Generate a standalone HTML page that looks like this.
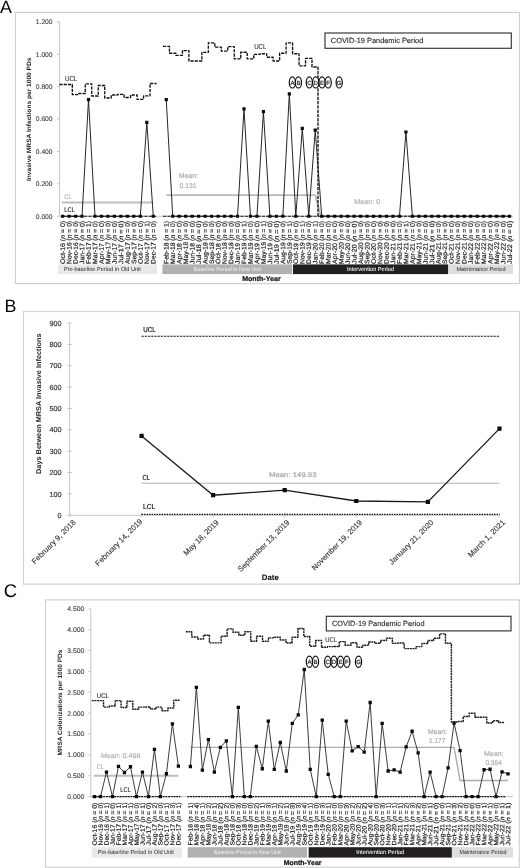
<!DOCTYPE html>
<html lang="en"><head><meta charset="utf-8"><title>MRSA control charts</title>
<style>
html,body{margin:0;padding:0;background:#fff;}
body{width:520px;height:868px;overflow:hidden;}
svg{display:block;font-family:"Liberation Sans", sans-serif;text-rendering:geometricPrecision;}
</style></head><body>
<svg width="520" height="868" viewBox="0 0 520 868">
<rect width="520" height="868" fill="#fff"/>
<rect x="15.4" y="12.4" width="504" height="271.2" fill="#fff" stroke="#d2d2d2" stroke-width="1.2"/>
<path d="M59.5 21.85 V216.25 H513" fill="none" stroke="#c6c6c6" stroke-width="1"/>
<path d="M57 216.25H59.5" stroke="#c6c6c6" stroke-width="1"/>
<text x="52.6" y="218.65" font-size="6.7" fill="#404040" text-anchor="end" textLength="16.8" lengthAdjust="spacingAndGlyphs" stroke="#404040" stroke-width="0.12">0.000</text>
<path d="M57 183.85H59.5" stroke="#c6c6c6" stroke-width="1"/>
<text x="52.6" y="186.25" font-size="6.7" fill="#404040" text-anchor="end" textLength="16.8" lengthAdjust="spacingAndGlyphs" stroke="#404040" stroke-width="0.12">0.200</text>
<path d="M57 151.45H59.5" stroke="#c6c6c6" stroke-width="1"/>
<text x="52.6" y="153.85" font-size="6.7" fill="#404040" text-anchor="end" textLength="16.8" lengthAdjust="spacingAndGlyphs" stroke="#404040" stroke-width="0.12">0.400</text>
<path d="M57 119.05H59.5" stroke="#c6c6c6" stroke-width="1"/>
<text x="52.6" y="121.45" font-size="6.7" fill="#404040" text-anchor="end" textLength="16.8" lengthAdjust="spacingAndGlyphs" stroke="#404040" stroke-width="0.12">0.600</text>
<path d="M57 86.65H59.5" stroke="#c6c6c6" stroke-width="1"/>
<text x="52.6" y="89.05" font-size="6.7" fill="#404040" text-anchor="end" textLength="16.8" lengthAdjust="spacingAndGlyphs" stroke="#404040" stroke-width="0.12">0.800</text>
<path d="M57 54.25H59.5" stroke="#c6c6c6" stroke-width="1"/>
<text x="52.6" y="56.65" font-size="6.7" fill="#404040" text-anchor="end" textLength="16.8" lengthAdjust="spacingAndGlyphs" stroke="#404040" stroke-width="0.12">1.000</text>
<path d="M57 21.85H59.5" stroke="#c6c6c6" stroke-width="1"/>
<text x="52.6" y="24.25" font-size="6.7" fill="#404040" text-anchor="end" textLength="16.8" lengthAdjust="spacingAndGlyphs" stroke="#404040" stroke-width="0.12">1.200</text>
<path d="M59.36 216.25v1.6M65.84 216.25v1.6M72.32 216.25v1.6M78.79 216.25v1.6M85.27 216.25v1.6M91.75 216.25v1.6M98.23 216.25v1.6M104.71 216.25v1.6M111.19 216.25v1.6M117.66 216.25v1.6M124.14 216.25v1.6M130.62 216.25v1.6M137.1 216.25v1.6M143.57 216.25v1.6M150.05 216.25v1.6M156.53 216.25v1.6M163.01 216.25v1.6M169.49 216.25v1.6M175.97 216.25v1.6M182.44 216.25v1.6M188.92 216.25v1.6M195.4 216.25v1.6M201.88 216.25v1.6M208.35 216.25v1.6M214.83 216.25v1.6M221.31 216.25v1.6M227.79 216.25v1.6M234.27 216.25v1.6M240.74 216.25v1.6M247.22 216.25v1.6M253.7 216.25v1.6M260.18 216.25v1.6M266.66 216.25v1.6M273.14 216.25v1.6M279.61 216.25v1.6M286.09 216.25v1.6M292.57 216.25v1.6M299.05 216.25v1.6M305.53 216.25v1.6M312 216.25v1.6M318.48 216.25v1.6M324.96 216.25v1.6M331.44 216.25v1.6M337.92 216.25v1.6M344.39 216.25v1.6M350.87 216.25v1.6M357.35 216.25v1.6M363.83 216.25v1.6M370.31 216.25v1.6M376.78 216.25v1.6M383.26 216.25v1.6M389.74 216.25v1.6M396.22 216.25v1.6M402.7 216.25v1.6M409.17 216.25v1.6M415.65 216.25v1.6M422.13 216.25v1.6M428.61 216.25v1.6M435.09 216.25v1.6M441.56 216.25v1.6M448.04 216.25v1.6M454.52 216.25v1.6M461 216.25v1.6M467.48 216.25v1.6M473.95 216.25v1.6M480.43 216.25v1.6M486.91 216.25v1.6M493.39 216.25v1.6M499.87 216.25v1.6M506.34 216.25v1.6M512.82 216.25v1.6" stroke="#d0d0d0" stroke-width="0.6"/>
<text x="31" y="119.3" font-size="6.3" fill="#222" text-anchor="middle" font-weight="bold" transform="rotate(-90 31 119.3)" textLength="123.5" lengthAdjust="spacingAndGlyphs">Invasive MRSA Infections per 1000 PDs</text>
<path d="M61.8 202.48H153.29" stroke="#bdbdbd" stroke-width="2"/>
<path d="M166.25 195.03H315.24L320.72 216.25H509.58" fill="none" stroke="#b9b9b9" stroke-width="1.8"/>
<path d="M59.36 84.5H65.84V84.5H72.32V94.6H78.79V93.5H85.27V83.8H91.75V96H98.23V85.5H104.71V98H111.19V95H117.66V94.4H124.14V97.5H130.62V95H137.1V99.4H143.57V95.8H150.05V83.5H156.53" fill="none" stroke="#111" stroke-width="1.35" stroke-linejoin="round" stroke-dasharray="3.2 1.1"/>
<path d="M163.01 46.4H169.49V53.2H175.97V55.4H182.44V50.6H188.92V61H195.4V61H201.88V52.3H208.35V42.8H214.83V47.1H221.31V51.1H227.79V46.6H234.27V58.9H240.74V52.2H247.22V58.9H253.7V54.4H260.18V53.7H266.66V57.2H273.14V61H279.61V53.2H286.09V42.8H292.57V53.7H299.05V65.8H305.53V58.4H312V67H318V216.25" fill="none" stroke="#111" stroke-width="1.35" stroke-linejoin="round" stroke-dasharray="3.2 1.1"/>
<path d="M62.6 216.25H156.53 M163.01 216.25H509.58" stroke="#111" stroke-width="1.05" stroke-dasharray="3.2 1.1"/>
<polyline points="62.6,216.25 69.08,216.25 75.56,216.25 82.03,216.25 88.51,99.61 94.99,216.25 101.47,216.25 107.95,216.25 114.42,216.25 120.9,216.25 127.38,216.25 133.86,216.25 140.34,216.25 146.81,122.29 153.29,216.25" fill="none" stroke="#1a1a1a" stroke-width="0.95" stroke-linejoin="miter"/>
<polyline points="166.25,99.61 172.73,216.25 179.2,216.25 185.68,216.25 192.16,216.25 198.64,216.25 205.12,216.25 211.59,216.25 218.07,216.25 224.55,216.25 231.03,216.25 237.51,216.25 243.98,108.84 250.46,216.25 256.94,216.25 263.42,111.6 269.9,216.25 276.37,216.25 282.85,216.25 289.33,93.78 295.81,216.25 302.29,128.45 308.76,216.25 315.24,130.07 321.72,216.25 328.2,216.25 334.68,216.25 341.15,216.25 347.63,216.25 354.11,216.25 360.59,216.25 367.07,216.25 373.54,216.25 380.02,216.25 386.5,216.25 392.98,216.25 399.46,216.25 405.93,132.01 412.41,216.25 418.89,216.25 425.37,216.25 431.85,216.25 438.32,216.25 444.8,216.25 451.28,216.25 457.76,216.25 464.24,216.25 470.71,216.25 477.19,216.25 483.67,216.25 490.15,216.25 496.63,216.25 503.1,216.25 509.58,216.25" fill="none" stroke="#1a1a1a" stroke-width="0.95" stroke-linejoin="miter"/>
<path d="M61 214.65h3.2v3.2h-3.2zM67.48 214.65h3.2v3.2h-3.2zM73.96 214.65h3.2v3.2h-3.2zM80.43 214.65h3.2v3.2h-3.2zM86.91 98.01h3.2v3.2h-3.2zM93.39 214.65h3.2v3.2h-3.2zM99.87 214.65h3.2v3.2h-3.2zM106.35 214.65h3.2v3.2h-3.2zM112.82 214.65h3.2v3.2h-3.2zM119.3 214.65h3.2v3.2h-3.2zM125.78 214.65h3.2v3.2h-3.2zM132.26 214.65h3.2v3.2h-3.2zM138.74 214.65h3.2v3.2h-3.2zM145.21 120.69h3.2v3.2h-3.2zM151.69 214.65h3.2v3.2h-3.2zM164.65 98.01h3.2v3.2h-3.2zM171.13 214.65h3.2v3.2h-3.2zM177.6 214.65h3.2v3.2h-3.2zM184.08 214.65h3.2v3.2h-3.2zM190.56 214.65h3.2v3.2h-3.2zM197.04 214.65h3.2v3.2h-3.2zM203.52 214.65h3.2v3.2h-3.2zM209.99 214.65h3.2v3.2h-3.2zM216.47 214.65h3.2v3.2h-3.2zM222.95 214.65h3.2v3.2h-3.2zM229.43 214.65h3.2v3.2h-3.2zM235.91 214.65h3.2v3.2h-3.2zM242.38 107.24h3.2v3.2h-3.2zM248.86 214.65h3.2v3.2h-3.2zM255.34 214.65h3.2v3.2h-3.2zM261.82 110h3.2v3.2h-3.2zM268.3 214.65h3.2v3.2h-3.2zM274.77 214.65h3.2v3.2h-3.2zM281.25 214.65h3.2v3.2h-3.2zM287.73 92.18h3.2v3.2h-3.2zM294.21 214.65h3.2v3.2h-3.2zM300.69 126.85h3.2v3.2h-3.2zM307.16 214.65h3.2v3.2h-3.2zM313.64 128.47h3.2v3.2h-3.2zM320.12 214.65h3.2v3.2h-3.2zM326.6 214.65h3.2v3.2h-3.2zM333.08 214.65h3.2v3.2h-3.2zM339.55 214.65h3.2v3.2h-3.2zM346.03 214.65h3.2v3.2h-3.2zM352.51 214.65h3.2v3.2h-3.2zM358.99 214.65h3.2v3.2h-3.2zM365.47 214.65h3.2v3.2h-3.2zM371.94 214.65h3.2v3.2h-3.2zM378.42 214.65h3.2v3.2h-3.2zM384.9 214.65h3.2v3.2h-3.2zM391.38 214.65h3.2v3.2h-3.2zM397.86 214.65h3.2v3.2h-3.2zM404.33 130.41h3.2v3.2h-3.2zM410.81 214.65h3.2v3.2h-3.2zM417.29 214.65h3.2v3.2h-3.2zM423.77 214.65h3.2v3.2h-3.2zM430.25 214.65h3.2v3.2h-3.2zM436.72 214.65h3.2v3.2h-3.2zM443.2 214.65h3.2v3.2h-3.2zM449.68 214.65h3.2v3.2h-3.2zM456.16 214.65h3.2v3.2h-3.2zM462.64 214.65h3.2v3.2h-3.2zM469.11 214.65h3.2v3.2h-3.2zM475.59 214.65h3.2v3.2h-3.2zM482.07 214.65h3.2v3.2h-3.2zM488.55 214.65h3.2v3.2h-3.2zM495.03 214.65h3.2v3.2h-3.2zM501.5 214.65h3.2v3.2h-3.2zM507.98 214.65h3.2v3.2h-3.2z" fill="#0a0a0a"/>
<text x="65" y="81.4" font-size="7.1" fill="#333" textLength="12.2" lengthAdjust="spacingAndGlyphs" stroke="#333" stroke-width="0.12">UCL</text>
<text x="254.2" y="49.3" font-size="7.1" fill="#333" textLength="12.2" lengthAdjust="spacingAndGlyphs" stroke="#333" stroke-width="0.12">UCL</text>
<text x="64.6" y="198.7" font-size="6.9" fill="#b5b5b5" textLength="6.8" lengthAdjust="spacingAndGlyphs" stroke="#b5b5b5" stroke-width="0.22">CL</text>
<text x="64.3" y="211.6" font-size="6.9" fill="#222" textLength="10.8" lengthAdjust="spacingAndGlyphs" stroke="#222" stroke-width="0.12">LCL</text>
<text x="178.7" y="177.8" font-size="6.9" fill="#b0b0b0" textLength="19.3" lengthAdjust="spacingAndGlyphs" stroke="#b0b0b0" stroke-width="0.22">Mean:</text>
<text x="179.6" y="187.6" font-size="6.9" fill="#b0b0b0" textLength="16.9" lengthAdjust="spacingAndGlyphs" stroke="#b0b0b0" stroke-width="0.22">0.131</text>
<text x="354.2" y="203.6" font-size="6.9" fill="#b5b5b5" textLength="26" lengthAdjust="spacingAndGlyphs" stroke="#b5b5b5" stroke-width="0.22">Mean: 0</text>
<rect x="325" y="33" width="186.3" height="15.3" fill="#fff" stroke="#3a3a3a" stroke-width="1.2"/>
<text x="330.8" y="43.1" font-size="7.5" fill="#222" textLength="92.5" lengthAdjust="spacingAndGlyphs" stroke="#222" stroke-width="0.1">COVID-19 Pandemic Period</text>
<ellipse cx="292.4" cy="82.4" rx="3.1" ry="5.6" fill="#fff" stroke="#0c0c0c" stroke-width="1.2"/>
<text x="292.4" y="84.55" font-size="6" fill="#222" text-anchor="middle" stroke="#222" stroke-width="0.2">A</text>
<ellipse cx="298.4" cy="82.4" rx="3.1" ry="5.6" fill="#fff" stroke="#0c0c0c" stroke-width="1.2"/>
<text x="298.4" y="84.55" font-size="6" fill="#222" text-anchor="middle" stroke="#222" stroke-width="0.2">B</text>
<ellipse cx="309.3" cy="82.4" rx="3.1" ry="5.6" fill="#fff" stroke="#0c0c0c" stroke-width="1.2"/>
<text x="309.3" y="84.55" font-size="6" fill="#222" text-anchor="middle" stroke="#222" stroke-width="0.2">C</text>
<ellipse cx="315.7" cy="82.4" rx="3.1" ry="5.6" fill="#fff" stroke="#0c0c0c" stroke-width="1.2"/>
<text x="315.7" y="84.55" font-size="6" fill="#222" text-anchor="middle" stroke="#222" stroke-width="0.2">D</text>
<ellipse cx="322.1" cy="82.4" rx="3.1" ry="5.6" fill="#fff" stroke="#0c0c0c" stroke-width="1.2"/>
<text x="322.1" y="84.55" font-size="6" fill="#222" text-anchor="middle" stroke="#222" stroke-width="0.2">E</text>
<ellipse cx="328.2" cy="82.4" rx="3.1" ry="5.6" fill="#fff" stroke="#0c0c0c" stroke-width="1.2"/>
<text x="328.2" y="84.55" font-size="6" fill="#222" text-anchor="middle" stroke="#222" stroke-width="0.2">F</text>
<ellipse cx="339.2" cy="82.4" rx="3.1" ry="5.6" fill="#fff" stroke="#0c0c0c" stroke-width="1.2"/>
<text x="339.2" y="84.55" font-size="6" fill="#222" text-anchor="middle" stroke="#222" stroke-width="0.2">G</text>
<text x="64.9" y="263.9" font-size="6.6" fill="#1a1a1a" transform="rotate(-89.9 64.9 263.9)" textLength="43" lengthAdjust="spacingAndGlyphs" stroke="#1a1a1a" stroke-width="0.18">Oct-16 (<tspan font-style="italic">n</tspan> = 0)</text>
<text x="71.38" y="263.9" font-size="6.6" fill="#1a1a1a" transform="rotate(-89.9 71.38 263.9)" textLength="43" lengthAdjust="spacingAndGlyphs" stroke="#1a1a1a" stroke-width="0.18">Nov-16 (<tspan font-style="italic">n</tspan> = 0)</text>
<text x="77.86" y="263.9" font-size="6.6" fill="#1a1a1a" transform="rotate(-89.9 77.86 263.9)" textLength="43" lengthAdjust="spacingAndGlyphs" stroke="#1a1a1a" stroke-width="0.18">Dec-16 (<tspan font-style="italic">n</tspan> = 0)</text>
<text x="84.33" y="263.9" font-size="6.6" fill="#1a1a1a" transform="rotate(-89.9 84.33 263.9)" textLength="43" lengthAdjust="spacingAndGlyphs" stroke="#1a1a1a" stroke-width="0.18">Jan-17 (<tspan font-style="italic">n</tspan> = 0)</text>
<text x="90.81" y="263.9" font-size="6.6" fill="#1a1a1a" transform="rotate(-89.9 90.81 263.9)" textLength="43" lengthAdjust="spacingAndGlyphs" stroke="#1a1a1a" stroke-width="0.18">Feb-17 (<tspan font-style="italic">n</tspan> = 1)</text>
<text x="97.29" y="263.9" font-size="6.6" fill="#1a1a1a" transform="rotate(-89.9 97.29 263.9)" textLength="43" lengthAdjust="spacingAndGlyphs" stroke="#1a1a1a" stroke-width="0.18">Mar-17 (<tspan font-style="italic">n</tspan> = 0)</text>
<text x="103.77" y="263.9" font-size="6.6" fill="#1a1a1a" transform="rotate(-89.9 103.77 263.9)" textLength="43" lengthAdjust="spacingAndGlyphs" stroke="#1a1a1a" stroke-width="0.18">Apr-17 (<tspan font-style="italic">n</tspan> = 0)</text>
<text x="110.25" y="263.9" font-size="6.6" fill="#1a1a1a" transform="rotate(-89.9 110.25 263.9)" textLength="43" lengthAdjust="spacingAndGlyphs" stroke="#1a1a1a" stroke-width="0.18">May-17 (<tspan font-style="italic">n</tspan> = 0)</text>
<text x="116.72" y="263.9" font-size="6.6" fill="#1a1a1a" transform="rotate(-89.9 116.72 263.9)" textLength="43" lengthAdjust="spacingAndGlyphs" stroke="#1a1a1a" stroke-width="0.18">Jun-17 (<tspan font-style="italic">n</tspan> = 0)</text>
<text x="123.2" y="263.9" font-size="6.6" fill="#1a1a1a" transform="rotate(-89.9 123.2 263.9)" textLength="43" lengthAdjust="spacingAndGlyphs" stroke="#1a1a1a" stroke-width="0.18">Jul-17 (<tspan font-style="italic">n</tspan> = 0)</text>
<text x="129.68" y="263.9" font-size="6.6" fill="#1a1a1a" transform="rotate(-89.9 129.68 263.9)" textLength="43" lengthAdjust="spacingAndGlyphs" stroke="#1a1a1a" stroke-width="0.18">Aug-17 (<tspan font-style="italic">n</tspan> = 0)</text>
<text x="136.16" y="263.9" font-size="6.6" fill="#1a1a1a" transform="rotate(-89.9 136.16 263.9)" textLength="43" lengthAdjust="spacingAndGlyphs" stroke="#1a1a1a" stroke-width="0.18">Sep-17 (<tspan font-style="italic">n</tspan> = 0)</text>
<text x="142.64" y="263.9" font-size="6.6" fill="#1a1a1a" transform="rotate(-89.9 142.64 263.9)" textLength="43" lengthAdjust="spacingAndGlyphs" stroke="#1a1a1a" stroke-width="0.18">Oct-17 (<tspan font-style="italic">n</tspan> = 0)</text>
<text x="149.11" y="263.9" font-size="6.6" fill="#1a1a1a" transform="rotate(-89.9 149.11 263.9)" textLength="43" lengthAdjust="spacingAndGlyphs" stroke="#1a1a1a" stroke-width="0.18">Nov-17 (<tspan font-style="italic">n</tspan> = 1)</text>
<text x="155.59" y="263.9" font-size="6.6" fill="#1a1a1a" transform="rotate(-89.9 155.59 263.9)" textLength="43" lengthAdjust="spacingAndGlyphs" stroke="#1a1a1a" stroke-width="0.18">Dec-17 (<tspan font-style="italic">n</tspan> = 0)</text>
<text x="168.55" y="263.9" font-size="6.6" fill="#1a1a1a" transform="rotate(-89.9 168.55 263.9)" textLength="43" lengthAdjust="spacingAndGlyphs" stroke="#1a1a1a" stroke-width="0.18">Feb-18 (<tspan font-style="italic">n</tspan> = 1)</text>
<text x="175.03" y="263.9" font-size="6.6" fill="#1a1a1a" transform="rotate(-89.9 175.03 263.9)" textLength="43" lengthAdjust="spacingAndGlyphs" stroke="#1a1a1a" stroke-width="0.18">Mar-18 (<tspan font-style="italic">n</tspan> = 0)</text>
<text x="181.5" y="263.9" font-size="6.6" fill="#1a1a1a" transform="rotate(-89.9 181.5 263.9)" textLength="43" lengthAdjust="spacingAndGlyphs" stroke="#1a1a1a" stroke-width="0.18">Apr-18 (<tspan font-style="italic">n</tspan> = 0)</text>
<text x="187.98" y="263.9" font-size="6.6" fill="#1a1a1a" transform="rotate(-89.9 187.98 263.9)" textLength="43" lengthAdjust="spacingAndGlyphs" stroke="#1a1a1a" stroke-width="0.18">May-18 (<tspan font-style="italic">n</tspan> = 0)</text>
<text x="194.46" y="263.9" font-size="6.6" fill="#1a1a1a" transform="rotate(-89.9 194.46 263.9)" textLength="43" lengthAdjust="spacingAndGlyphs" stroke="#1a1a1a" stroke-width="0.18">Jun-18 (<tspan font-style="italic">n</tspan> = 0)</text>
<text x="200.94" y="263.9" font-size="6.6" fill="#1a1a1a" transform="rotate(-89.9 200.94 263.9)" textLength="43" lengthAdjust="spacingAndGlyphs" stroke="#1a1a1a" stroke-width="0.18">Jul-18 (<tspan font-style="italic">n</tspan> = 0)</text>
<text x="207.42" y="263.9" font-size="6.6" fill="#1a1a1a" transform="rotate(-89.9 207.42 263.9)" textLength="43" lengthAdjust="spacingAndGlyphs" stroke="#1a1a1a" stroke-width="0.18">Aug-18 (<tspan font-style="italic">n</tspan> = 0)</text>
<text x="213.89" y="263.9" font-size="6.6" fill="#1a1a1a" transform="rotate(-89.9 213.89 263.9)" textLength="43" lengthAdjust="spacingAndGlyphs" stroke="#1a1a1a" stroke-width="0.18">Sep-18 (<tspan font-style="italic">n</tspan> = 0)</text>
<text x="220.37" y="263.9" font-size="6.6" fill="#1a1a1a" transform="rotate(-89.9 220.37 263.9)" textLength="43" lengthAdjust="spacingAndGlyphs" stroke="#1a1a1a" stroke-width="0.18">Oct-18 (<tspan font-style="italic">n</tspan> = 0)</text>
<text x="226.85" y="263.9" font-size="6.6" fill="#1a1a1a" transform="rotate(-89.9 226.85 263.9)" textLength="43" lengthAdjust="spacingAndGlyphs" stroke="#1a1a1a" stroke-width="0.18">Nov-18 (<tspan font-style="italic">n</tspan> = 0)</text>
<text x="233.33" y="263.9" font-size="6.6" fill="#1a1a1a" transform="rotate(-89.9 233.33 263.9)" textLength="43" lengthAdjust="spacingAndGlyphs" stroke="#1a1a1a" stroke-width="0.18">Dec-18 (<tspan font-style="italic">n</tspan> = 0)</text>
<text x="239.81" y="263.9" font-size="6.6" fill="#1a1a1a" transform="rotate(-89.9 239.81 263.9)" textLength="43" lengthAdjust="spacingAndGlyphs" stroke="#1a1a1a" stroke-width="0.18">Jan-19 (<tspan font-style="italic">n</tspan> = 0)</text>
<text x="246.28" y="263.9" font-size="6.6" fill="#1a1a1a" transform="rotate(-89.9 246.28 263.9)" textLength="43" lengthAdjust="spacingAndGlyphs" stroke="#1a1a1a" stroke-width="0.18">Feb-19 (<tspan font-style="italic">n</tspan> = 1)</text>
<text x="252.76" y="263.9" font-size="6.6" fill="#1a1a1a" transform="rotate(-89.9 252.76 263.9)" textLength="43" lengthAdjust="spacingAndGlyphs" stroke="#1a1a1a" stroke-width="0.18">Mar-19 (<tspan font-style="italic">n</tspan> = 0)</text>
<text x="259.24" y="263.9" font-size="6.6" fill="#1a1a1a" transform="rotate(-89.9 259.24 263.9)" textLength="43" lengthAdjust="spacingAndGlyphs" stroke="#1a1a1a" stroke-width="0.18">Apr-19 (<tspan font-style="italic">n</tspan> = 0)</text>
<text x="265.72" y="263.9" font-size="6.6" fill="#1a1a1a" transform="rotate(-89.9 265.72 263.9)" textLength="43" lengthAdjust="spacingAndGlyphs" stroke="#1a1a1a" stroke-width="0.18">May-19 (<tspan font-style="italic">n</tspan> = 1)</text>
<text x="272.2" y="263.9" font-size="6.6" fill="#1a1a1a" transform="rotate(-89.9 272.2 263.9)" textLength="43" lengthAdjust="spacingAndGlyphs" stroke="#1a1a1a" stroke-width="0.18">Jun-19 (<tspan font-style="italic">n</tspan> = 0)</text>
<text x="278.67" y="263.9" font-size="6.6" fill="#1a1a1a" transform="rotate(-89.9 278.67 263.9)" textLength="43" lengthAdjust="spacingAndGlyphs" stroke="#1a1a1a" stroke-width="0.18">Jul-19 (<tspan font-style="italic">n</tspan> = 0)</text>
<text x="285.15" y="263.9" font-size="6.6" fill="#1a1a1a" transform="rotate(-89.9 285.15 263.9)" textLength="43" lengthAdjust="spacingAndGlyphs" stroke="#1a1a1a" stroke-width="0.18">Aug-19 (<tspan font-style="italic">n</tspan> = 0)</text>
<text x="291.63" y="263.9" font-size="6.6" fill="#1a1a1a" transform="rotate(-89.9 291.63 263.9)" textLength="43" lengthAdjust="spacingAndGlyphs" stroke="#1a1a1a" stroke-width="0.18">Sep-19 (<tspan font-style="italic">n</tspan> = 1)</text>
<text x="298.11" y="263.9" font-size="6.6" fill="#1a1a1a" transform="rotate(-89.9 298.11 263.9)" textLength="43" lengthAdjust="spacingAndGlyphs" stroke="#1a1a1a" stroke-width="0.18">Oct-19 (<tspan font-style="italic">n</tspan> = 0)</text>
<text x="304.59" y="263.9" font-size="6.6" fill="#1a1a1a" transform="rotate(-89.9 304.59 263.9)" textLength="43" lengthAdjust="spacingAndGlyphs" stroke="#1a1a1a" stroke-width="0.18">Nov-19 (<tspan font-style="italic">n</tspan> = 1)</text>
<text x="311.06" y="263.9" font-size="6.6" fill="#1a1a1a" transform="rotate(-89.9 311.06 263.9)" textLength="43" lengthAdjust="spacingAndGlyphs" stroke="#1a1a1a" stroke-width="0.18">Dec-19 (<tspan font-style="italic">n</tspan> = 0)</text>
<text x="317.54" y="263.9" font-size="6.6" fill="#1a1a1a" transform="rotate(-89.9 317.54 263.9)" textLength="43" lengthAdjust="spacingAndGlyphs" stroke="#1a1a1a" stroke-width="0.18">Jan-20 (<tspan font-style="italic">n</tspan> = 1)</text>
<text x="324.02" y="263.9" font-size="6.6" fill="#1a1a1a" transform="rotate(-89.9 324.02 263.9)" textLength="43" lengthAdjust="spacingAndGlyphs" stroke="#1a1a1a" stroke-width="0.18">Feb-20 (<tspan font-style="italic">n</tspan> = 0)</text>
<text x="330.5" y="263.9" font-size="6.6" fill="#1a1a1a" transform="rotate(-89.9 330.5 263.9)" textLength="43" lengthAdjust="spacingAndGlyphs" stroke="#1a1a1a" stroke-width="0.18">Mar-20 (<tspan font-style="italic">n</tspan> = 0)</text>
<text x="336.98" y="263.9" font-size="6.6" fill="#1a1a1a" transform="rotate(-89.9 336.98 263.9)" textLength="43" lengthAdjust="spacingAndGlyphs" stroke="#1a1a1a" stroke-width="0.18">Apr-20 (<tspan font-style="italic">n</tspan> = 0)</text>
<text x="343.45" y="263.9" font-size="6.6" fill="#1a1a1a" transform="rotate(-89.9 343.45 263.9)" textLength="43" lengthAdjust="spacingAndGlyphs" stroke="#1a1a1a" stroke-width="0.18">May-20 (<tspan font-style="italic">n</tspan> = 0)</text>
<text x="349.93" y="263.9" font-size="6.6" fill="#1a1a1a" transform="rotate(-89.9 349.93 263.9)" textLength="43" lengthAdjust="spacingAndGlyphs" stroke="#1a1a1a" stroke-width="0.18">Jun-20 (<tspan font-style="italic">n</tspan> = 0)</text>
<text x="356.41" y="263.9" font-size="6.6" fill="#1a1a1a" transform="rotate(-89.9 356.41 263.9)" textLength="43" lengthAdjust="spacingAndGlyphs" stroke="#1a1a1a" stroke-width="0.18">Jul-20 (<tspan font-style="italic">n</tspan> = 0)</text>
<text x="362.89" y="263.9" font-size="6.6" fill="#1a1a1a" transform="rotate(-89.9 362.89 263.9)" textLength="43" lengthAdjust="spacingAndGlyphs" stroke="#1a1a1a" stroke-width="0.18">Aug-20 (<tspan font-style="italic">n</tspan> = 0)</text>
<text x="369.37" y="263.9" font-size="6.6" fill="#1a1a1a" transform="rotate(-89.9 369.37 263.9)" textLength="43" lengthAdjust="spacingAndGlyphs" stroke="#1a1a1a" stroke-width="0.18">Sep-20 (<tspan font-style="italic">n</tspan> = 0)</text>
<text x="375.84" y="263.9" font-size="6.6" fill="#1a1a1a" transform="rotate(-89.9 375.84 263.9)" textLength="43" lengthAdjust="spacingAndGlyphs" stroke="#1a1a1a" stroke-width="0.18">Oct-20 (<tspan font-style="italic">n</tspan> = 0)</text>
<text x="382.32" y="263.9" font-size="6.6" fill="#1a1a1a" transform="rotate(-89.9 382.32 263.9)" textLength="43" lengthAdjust="spacingAndGlyphs" stroke="#1a1a1a" stroke-width="0.18">Nov-20 (<tspan font-style="italic">n</tspan> = 0)</text>
<text x="388.8" y="263.9" font-size="6.6" fill="#1a1a1a" transform="rotate(-89.9 388.8 263.9)" textLength="43" lengthAdjust="spacingAndGlyphs" stroke="#1a1a1a" stroke-width="0.18">Dec-20 (<tspan font-style="italic">n</tspan> = 0)</text>
<text x="395.28" y="263.9" font-size="6.6" fill="#1a1a1a" transform="rotate(-89.9 395.28 263.9)" textLength="43" lengthAdjust="spacingAndGlyphs" stroke="#1a1a1a" stroke-width="0.18">Jan-21 (<tspan font-style="italic">n</tspan> = 0)</text>
<text x="401.76" y="263.9" font-size="6.6" fill="#1a1a1a" transform="rotate(-89.9 401.76 263.9)" textLength="43" lengthAdjust="spacingAndGlyphs" stroke="#1a1a1a" stroke-width="0.18">Feb-21 (<tspan font-style="italic">n</tspan> = 0)</text>
<text x="408.23" y="263.9" font-size="6.6" fill="#1a1a1a" transform="rotate(-89.9 408.23 263.9)" textLength="43" lengthAdjust="spacingAndGlyphs" stroke="#1a1a1a" stroke-width="0.18">Mar-21 (<tspan font-style="italic">n</tspan> = 1)</text>
<text x="414.71" y="263.9" font-size="6.6" fill="#1a1a1a" transform="rotate(-89.9 414.71 263.9)" textLength="43" lengthAdjust="spacingAndGlyphs" stroke="#1a1a1a" stroke-width="0.18">Apr-21 (<tspan font-style="italic">n</tspan> = 0)</text>
<text x="421.19" y="263.9" font-size="6.6" fill="#1a1a1a" transform="rotate(-89.9 421.19 263.9)" textLength="43" lengthAdjust="spacingAndGlyphs" stroke="#1a1a1a" stroke-width="0.18">May-21 (<tspan font-style="italic">n</tspan> = 0)</text>
<text x="427.67" y="263.9" font-size="6.6" fill="#1a1a1a" transform="rotate(-89.9 427.67 263.9)" textLength="43" lengthAdjust="spacingAndGlyphs" stroke="#1a1a1a" stroke-width="0.18">Jun-21 (<tspan font-style="italic">n</tspan> = 0)</text>
<text x="434.15" y="263.9" font-size="6.6" fill="#1a1a1a" transform="rotate(-89.9 434.15 263.9)" textLength="43" lengthAdjust="spacingAndGlyphs" stroke="#1a1a1a" stroke-width="0.18">Jul-21 (<tspan font-style="italic">n</tspan> = 0)</text>
<text x="440.62" y="263.9" font-size="6.6" fill="#1a1a1a" transform="rotate(-89.9 440.62 263.9)" textLength="43" lengthAdjust="spacingAndGlyphs" stroke="#1a1a1a" stroke-width="0.18">Aug-21 (<tspan font-style="italic">n</tspan> = 0)</text>
<text x="447.1" y="263.9" font-size="6.6" fill="#1a1a1a" transform="rotate(-89.9 447.1 263.9)" textLength="43" lengthAdjust="spacingAndGlyphs" stroke="#1a1a1a" stroke-width="0.18">Sep-21 (<tspan font-style="italic">n</tspan> = 0)</text>
<text x="453.58" y="263.9" font-size="6.6" fill="#1a1a1a" transform="rotate(-89.9 453.58 263.9)" textLength="43" lengthAdjust="spacingAndGlyphs" stroke="#1a1a1a" stroke-width="0.18">Oct-21 (<tspan font-style="italic">n</tspan> = 0)</text>
<text x="460.06" y="263.9" font-size="6.6" fill="#1a1a1a" transform="rotate(-89.9 460.06 263.9)" textLength="43" lengthAdjust="spacingAndGlyphs" stroke="#1a1a1a" stroke-width="0.18">Nov-21 (<tspan font-style="italic">n</tspan> = 0)</text>
<text x="466.54" y="263.9" font-size="6.6" fill="#1a1a1a" transform="rotate(-89.9 466.54 263.9)" textLength="43" lengthAdjust="spacingAndGlyphs" stroke="#1a1a1a" stroke-width="0.18">Dec-21 (<tspan font-style="italic">n</tspan> = 0)</text>
<text x="473.01" y="263.9" font-size="6.6" fill="#1a1a1a" transform="rotate(-89.9 473.01 263.9)" textLength="43" lengthAdjust="spacingAndGlyphs" stroke="#1a1a1a" stroke-width="0.18">Jan-22 (<tspan font-style="italic">n</tspan> = 0)</text>
<text x="479.49" y="263.9" font-size="6.6" fill="#1a1a1a" transform="rotate(-89.9 479.49 263.9)" textLength="43" lengthAdjust="spacingAndGlyphs" stroke="#1a1a1a" stroke-width="0.18">Feb-22 (<tspan font-style="italic">n</tspan> = 0)</text>
<text x="485.97" y="263.9" font-size="6.6" fill="#1a1a1a" transform="rotate(-89.9 485.97 263.9)" textLength="43" lengthAdjust="spacingAndGlyphs" stroke="#1a1a1a" stroke-width="0.18">Mar-22 (<tspan font-style="italic">n</tspan> = 0)</text>
<text x="492.45" y="263.9" font-size="6.6" fill="#1a1a1a" transform="rotate(-89.9 492.45 263.9)" textLength="43" lengthAdjust="spacingAndGlyphs" stroke="#1a1a1a" stroke-width="0.18">Apr-22 (<tspan font-style="italic">n</tspan> = 0)</text>
<text x="498.93" y="263.9" font-size="6.6" fill="#1a1a1a" transform="rotate(-89.9 498.93 263.9)" textLength="43" lengthAdjust="spacingAndGlyphs" stroke="#1a1a1a" stroke-width="0.18">May-22 (<tspan font-style="italic">n</tspan> = 0)</text>
<text x="505.4" y="263.9" font-size="6.6" fill="#1a1a1a" transform="rotate(-89.9 505.4 263.9)" textLength="43" lengthAdjust="spacingAndGlyphs" stroke="#1a1a1a" stroke-width="0.18">Jun-22 (<tspan font-style="italic">n</tspan> = 0)</text>
<text x="511.88" y="263.9" font-size="6.6" fill="#1a1a1a" transform="rotate(-89.9 511.88 263.9)" textLength="43" lengthAdjust="spacingAndGlyphs" stroke="#1a1a1a" stroke-width="0.18">Jul-22 (<tspan font-style="italic">n</tspan> = 0)</text>
<rect x="58" y="264.4" width="99" height="9.7" fill="#e9e9e9"/>
<rect x="162.4" y="264.4" width="129.8" height="9.7" fill="#b0b1b3"/>
<rect x="293" y="264.4" width="155.3" height="9.7" fill="#231f20"/>
<rect x="448.3" y="264.4" width="64.7" height="9.7" fill="#dedede"/>
<text x="63.9" y="271" font-size="5.9" fill="#3a3a3a" textLength="77" lengthAdjust="spacingAndGlyphs" stroke="#3a3a3a" stroke-width="0.05">Pre-baseline Period in Old Unit</text>
<text x="227.5" y="271" font-size="5.8" fill="#f4f4f4" text-anchor="middle" textLength="67" lengthAdjust="spacingAndGlyphs">Baseline Period in New Unit</text>
<text x="370.5" y="271" font-size="5.9" fill="#fff" text-anchor="middle" textLength="47" lengthAdjust="spacingAndGlyphs" stroke="#fff" stroke-width="0.05">Intervention Period</text>
<text x="481" y="271" font-size="5.9" fill="#3a3a3a" text-anchor="middle" textLength="49" lengthAdjust="spacingAndGlyphs" stroke="#3a3a3a" stroke-width="0.05">Maintenance Period</text>
<text x="261.4" y="280.8" font-size="7" fill="#111" text-anchor="middle" font-weight="bold" textLength="38.5" lengthAdjust="spacingAndGlyphs" stroke="#111" stroke-width="0.22">Month-Year</text>
<rect x="23.5" y="311.5" width="496" height="272.6" fill="#fff" stroke="#d2d2d2" stroke-width="1.2"/>
<path d="M69.6 323.06 V515.3 H499.48" fill="none" stroke="#c6c6c6" stroke-width="1"/>
<path d="M67.3 515.3H71.9" stroke="#c6c6c6" stroke-width="1"/>
<text x="61.6" y="517.9" font-size="7.2" fill="#404040" text-anchor="end" stroke="#404040" stroke-width="0.22">0</text>
<path d="M67.3 493.94H71.9" stroke="#c6c6c6" stroke-width="1"/>
<text x="61.6" y="496.54" font-size="7.2" fill="#404040" text-anchor="end" stroke="#404040" stroke-width="0.22">100</text>
<path d="M67.3 472.58H71.9" stroke="#c6c6c6" stroke-width="1"/>
<text x="61.6" y="475.18" font-size="7.2" fill="#404040" text-anchor="end" stroke="#404040" stroke-width="0.22">200</text>
<path d="M67.3 451.22H71.9" stroke="#c6c6c6" stroke-width="1"/>
<text x="61.6" y="453.82" font-size="7.2" fill="#404040" text-anchor="end" stroke="#404040" stroke-width="0.22">300</text>
<path d="M67.3 429.86H71.9" stroke="#c6c6c6" stroke-width="1"/>
<text x="61.6" y="432.46" font-size="7.2" fill="#404040" text-anchor="end" stroke="#404040" stroke-width="0.22">400</text>
<path d="M67.3 408.5H71.9" stroke="#c6c6c6" stroke-width="1"/>
<text x="61.6" y="411.1" font-size="7.2" fill="#404040" text-anchor="end" stroke="#404040" stroke-width="0.22">500</text>
<path d="M67.3 387.14H71.9" stroke="#c6c6c6" stroke-width="1"/>
<text x="61.6" y="389.74" font-size="7.2" fill="#404040" text-anchor="end" stroke="#404040" stroke-width="0.22">600</text>
<path d="M67.3 365.78H71.9" stroke="#c6c6c6" stroke-width="1"/>
<text x="61.6" y="368.38" font-size="7.2" fill="#404040" text-anchor="end" stroke="#404040" stroke-width="0.22">700</text>
<path d="M67.3 344.42H71.9" stroke="#c6c6c6" stroke-width="1"/>
<text x="61.6" y="347.02" font-size="7.2" fill="#404040" text-anchor="end" stroke="#404040" stroke-width="0.22">800</text>
<path d="M67.3 323.06H71.9" stroke="#c6c6c6" stroke-width="1"/>
<text x="61.6" y="325.66" font-size="7.2" fill="#404040" text-anchor="end" stroke="#404040" stroke-width="0.22">900</text>
<path d="M70 513v4.6M141.58 513v4.6M213.16 513v4.6M284.74 513v4.6M356.32 513v4.6M427.9 513v4.6M499.48 513v4.6" stroke="#c6c6c6" stroke-width="1"/>
<text x="41.2" y="403.7" font-size="7" fill="#222" text-anchor="middle" font-weight="bold" transform="rotate(-90 41.2 403.7)" textLength="140.5" lengthAdjust="spacingAndGlyphs">Days Between MRSA Invasive Infections</text>
<path d="M141.58 336.3H499.48" stroke="#111" stroke-width="1.1" stroke-dasharray="2.2 1"/>
<path d="M141.58 483.2H499.48" stroke="#b0b0b0" stroke-width="1"/>
<path d="M141.58 514.3H499.48" stroke="#111" stroke-width="1.2" stroke-dasharray="1.5 1"/>
<polyline points="141.58,435.9 213.16,495.22 284.74,490.1 356.32,500.99 427.9,501.84 499.48,428.58" fill="none" stroke="#1a1a1a" stroke-width="1.3"/>
<path d="M139.48 433.8h4.2v4.2h-4.2zM211.06 493.12h4.2v4.2h-4.2zM282.64 488h4.2v4.2h-4.2zM354.22 498.89h4.2v4.2h-4.2zM425.8 499.74h4.2v4.2h-4.2zM497.38 426.48h4.2v4.2h-4.2z" fill="#0a0a0a"/>
<text x="143.2" y="332.2" font-size="7.2" fill="#222" textLength="12.6" lengthAdjust="spacingAndGlyphs" stroke="#222" stroke-width="0.22">UCL</text>
<text x="142.5" y="480.2" font-size="7.2" fill="#222" textLength="7.6" lengthAdjust="spacingAndGlyphs" stroke="#222" stroke-width="0.22">CL</text>
<text x="143" y="509.2" font-size="7.2" fill="#222" textLength="12.2" lengthAdjust="spacingAndGlyphs" stroke="#222" stroke-width="0.22">LCL</text>
<text x="269" y="477" font-size="6.8" fill="#a8a8a8" textLength="47.5" lengthAdjust="spacingAndGlyphs" stroke="#a8a8a8" stroke-width="0.22">Mean: 149.93</text>
<text x="76.2" y="523" font-size="7.7" fill="#333" text-anchor="end" transform="rotate(-45 76.2 523)" stroke="#333" stroke-width="0.12">February 9, 2018</text>
<text x="142.78" y="522" font-size="7.7" fill="#333" text-anchor="end" transform="rotate(-45 142.78 522)" stroke="#333" stroke-width="0.12">February 14, 2019</text>
<text x="219.36" y="523" font-size="7.7" fill="#333" text-anchor="end" transform="rotate(-45 219.36 523)" stroke="#333" stroke-width="0.12">May 18, 2019</text>
<text x="290.14" y="523" font-size="7.7" fill="#333" text-anchor="end" transform="rotate(-45 290.14 523)" stroke="#333" stroke-width="0.12">September 13, 2019</text>
<text x="362.52" y="523" font-size="7.7" fill="#333" text-anchor="end" transform="rotate(-45 362.52 523)" stroke="#333" stroke-width="0.12">November 19, 2019</text>
<text x="434.1" y="523" font-size="7.7" fill="#333" text-anchor="end" transform="rotate(-45 434.1 523)" stroke="#333" stroke-width="0.12">January 21, 2020</text>
<text x="505.68" y="523" font-size="7.7" fill="#333" text-anchor="end" transform="rotate(-45 505.68 523)" stroke="#333" stroke-width="0.12">March 1, 2021</text>
<text x="270.3" y="580.2" font-size="7.8" fill="#111" text-anchor="middle" font-weight="bold" stroke="#111" stroke-width="0.1">Date</text>
<rect x="45.5" y="599.9" width="473.8" height="267.3" fill="#fff" stroke="#d2d2d2" stroke-width="1.2"/>
<path d="M90.8 608.86 V796.6 H513" fill="none" stroke="#c6c6c6" stroke-width="1"/>
<path d="M88.5 796.6H90.8" stroke="#c6c6c6" stroke-width="1"/>
<text x="84.4" y="799" font-size="6.7" fill="#404040" text-anchor="end" textLength="17.2" lengthAdjust="spacingAndGlyphs" stroke="#404040" stroke-width="0.12">0.000</text>
<path d="M88.5 775.74H90.8" stroke="#c6c6c6" stroke-width="1"/>
<text x="84.4" y="778.14" font-size="6.7" fill="#404040" text-anchor="end" textLength="17.2" lengthAdjust="spacingAndGlyphs" stroke="#404040" stroke-width="0.12">0.500</text>
<path d="M88.5 754.88H90.8" stroke="#c6c6c6" stroke-width="1"/>
<text x="84.4" y="757.28" font-size="6.7" fill="#404040" text-anchor="end" textLength="17.2" lengthAdjust="spacingAndGlyphs" stroke="#404040" stroke-width="0.12">1.000</text>
<path d="M88.5 734.02H90.8" stroke="#c6c6c6" stroke-width="1"/>
<text x="84.4" y="736.42" font-size="6.7" fill="#404040" text-anchor="end" textLength="17.2" lengthAdjust="spacingAndGlyphs" stroke="#404040" stroke-width="0.12">1.500</text>
<path d="M88.5 713.16H90.8" stroke="#c6c6c6" stroke-width="1"/>
<text x="84.4" y="715.56" font-size="6.7" fill="#404040" text-anchor="end" textLength="17.2" lengthAdjust="spacingAndGlyphs" stroke="#404040" stroke-width="0.12">2.000</text>
<path d="M88.5 692.3H90.8" stroke="#c6c6c6" stroke-width="1"/>
<text x="84.4" y="694.7" font-size="6.7" fill="#404040" text-anchor="end" textLength="17.2" lengthAdjust="spacingAndGlyphs" stroke="#404040" stroke-width="0.12">2.500</text>
<path d="M88.5 671.44H90.8" stroke="#c6c6c6" stroke-width="1"/>
<text x="84.4" y="673.84" font-size="6.7" fill="#404040" text-anchor="end" textLength="17.2" lengthAdjust="spacingAndGlyphs" stroke="#404040" stroke-width="0.12">3.000</text>
<path d="M88.5 650.58H90.8" stroke="#c6c6c6" stroke-width="1"/>
<text x="84.4" y="652.98" font-size="6.7" fill="#404040" text-anchor="end" textLength="17.2" lengthAdjust="spacingAndGlyphs" stroke="#404040" stroke-width="0.12">3.500</text>
<path d="M88.5 629.72H90.8" stroke="#c6c6c6" stroke-width="1"/>
<text x="84.4" y="632.12" font-size="6.7" fill="#404040" text-anchor="end" textLength="17.2" lengthAdjust="spacingAndGlyphs" stroke="#404040" stroke-width="0.12">4.000</text>
<path d="M88.5 608.86H90.8" stroke="#c6c6c6" stroke-width="1"/>
<text x="84.4" y="611.26" font-size="6.7" fill="#404040" text-anchor="end" textLength="17.2" lengthAdjust="spacingAndGlyphs" stroke="#404040" stroke-width="0.12">4.500</text>
<path d="M91.5 796.6v1.6M97.5 796.6v1.6M103.49 796.6v1.6M109.48 796.6v1.6M115.48 796.6v1.6M121.47 796.6v1.6M127.46 796.6v1.6M133.45 796.6v1.6M139.45 796.6v1.6M145.44 796.6v1.6M151.43 796.6v1.6M157.43 796.6v1.6M163.42 796.6v1.6M169.41 796.6v1.6M175.41 796.6v1.6M181.4 796.6v1.6M187.39 796.6v1.6M193.38 796.6v1.6M199.38 796.6v1.6M205.37 796.6v1.6M211.36 796.6v1.6M217.36 796.6v1.6M223.35 796.6v1.6M229.34 796.6v1.6M235.34 796.6v1.6M241.33 796.6v1.6M247.32 796.6v1.6M253.31 796.6v1.6M259.31 796.6v1.6M265.3 796.6v1.6M271.29 796.6v1.6M277.29 796.6v1.6M283.28 796.6v1.6M289.27 796.6v1.6M295.27 796.6v1.6M301.26 796.6v1.6M307.25 796.6v1.6M313.24 796.6v1.6M319.24 796.6v1.6M325.23 796.6v1.6M331.22 796.6v1.6M337.22 796.6v1.6M343.21 796.6v1.6M349.2 796.6v1.6M355.2 796.6v1.6M361.19 796.6v1.6M367.18 796.6v1.6M373.17 796.6v1.6M379.17 796.6v1.6M385.16 796.6v1.6M391.15 796.6v1.6M397.15 796.6v1.6M403.14 796.6v1.6M409.13 796.6v1.6M415.13 796.6v1.6M421.12 796.6v1.6M427.11 796.6v1.6M433.1 796.6v1.6M439.1 796.6v1.6M445.09 796.6v1.6M451.08 796.6v1.6M457.08 796.6v1.6M463.07 796.6v1.6M469.06 796.6v1.6M475.06 796.6v1.6M481.05 796.6v1.6M487.04 796.6v1.6M493.03 796.6v1.6M499.03 796.6v1.6M505.02 796.6v1.6M511.01 796.6v1.6" stroke="#d0d0d0" stroke-width="0.6"/>
<text x="62.2" y="702.6" font-size="6.3" fill="#222" text-anchor="middle" font-weight="bold" transform="rotate(-90 62.2 702.6)" textLength="106" lengthAdjust="spacingAndGlyphs">MRSA Colonizations per 1000 PDs</text>
<path d="M93.9 775.82H178.4" stroke="#bdbdbd" stroke-width="2"/>
<path d="M190.39 747.37H454.08L460.07 780.5H508.02" fill="none" stroke="#adadad" stroke-width="1.4"/>
<path d="M91.8 700.64H97.65V700.64H103.51V707.11H109.36V706.07H115.21V700.64H121.06V707.53H126.92V701.19H132.77V709.24H138.62V707.11H144.48V706.9H150.33V708.99H156.18V707.11H162.04V710.66H167.89V707.95H173.74V700.23H179.59" fill="none" stroke="#1c1c1c" stroke-width="1.45" stroke-linejoin="round" stroke-dasharray="2 0.65"/>
<path d="M185.8 631.81H191.7V636.94H197.6V638.98H203.51V635.19H209.41V642.86H215.31V642.86H221.21V636.27H227.11V628.89H233.02V632.22H238.92V635.19H244.82V631.81H250.72V641.23H256.62V636.27H262.53V641.23H268.43V637.86H274.33V637.23H280.23V639.9H286.13V642.99H292.04V637.23H297.94V628.47H303.84V636.52H309.74V646.2H315.64V640.57H321.55V647.33H327.45V646.62H333.35V646.41H339.25V641.61H345.15V645.16H351.06V642.65H356.96V647.24H362.86V645.16H368.76V641.9H374.66V643.28H380.57V640.57H386.47V638.27H392.37V643.28H398.27V643.07H404.17V648.62H410.08V648.62H415.98V646.62H421.88V643.49H427.78V640.57H433.68V638.27H439.59V633.89H445.49V643.24H451.39V721.92H457.29V721.5H463.19V716.5H469.1V713.33H475V717.33H480.9V717.33H486.8V723.05H492.7V720.79H498.61V722.51H504.51" fill="none" stroke="#1c1c1c" stroke-width="1.45" stroke-linejoin="round" stroke-dasharray="2 0.65"/>
<path d="M92.5 796.6H180.4 M187.39 796.6H506.02" stroke="#111" stroke-width="1.4" stroke-dasharray="1.9 0.8"/>
<polyline points="94.5,796.6 100.49,796.6 106.49,772.07 112.48,796.6 118.47,766.35 124.47,772.49 130.46,766.77 136.45,796.6 142.44,772.07 148.44,796.6 154.43,749.41 160.42,796.6 166.42,773.74 172.41,723.84 178.4,766.14" fill="none" stroke="#1a1a1a" stroke-width="0.85" stroke-linejoin="miter"/>
<polyline points="190.39,766.52 196.38,687.46 202.37,770.11 208.37,739.57 214.36,772.11 220.35,747.41 226.35,740.9 232.34,796.6 238.33,707.44 244.33,796.6 250.32,796.6 256.31,746.29 262.3,768.77 268.3,721.17 274.29,769.44 280.28,742.49 286.28,770.98 292.27,723.38 298.26,714.87 304.25,669.52 310.25,769.44 316.24,796.6 322.23,720.04 328.23,774.36 334.22,796.6 340.21,796.6 346.21,721.17 352.2,750.79 358.19,746.54 364.19,752.13 370.18,702.52 376.17,796.6 382.16,723.38 388.16,770.98 394.15,769.9 400.14,772.11 406.14,746.95 412.13,731.27 418.12,752.79 424.12,796.6 430.11,772.11 436.1,796.6 442.09,796.6 448.09,767.85 454.08,723.05 460.07,750.54 466.07,796.6 472.06,796.6 478.05,796.6 484.05,769.77 490.04,769.23 496.03,796.6 502.02,771.86 508.02,773.9" fill="none" stroke="#1a1a1a" stroke-width="0.85" stroke-linejoin="miter"/>
<path d="M92.85 794.95h3.3v3.3h-3.3zM98.84 794.95h3.3v3.3h-3.3zM104.84 770.42h3.3v3.3h-3.3zM110.83 794.95h3.3v3.3h-3.3zM116.82 764.7h3.3v3.3h-3.3zM122.81 770.84h3.3v3.3h-3.3zM128.81 765.12h3.3v3.3h-3.3zM134.8 794.95h3.3v3.3h-3.3zM140.79 770.42h3.3v3.3h-3.3zM146.79 794.95h3.3v3.3h-3.3zM152.78 747.76h3.3v3.3h-3.3zM158.77 794.95h3.3v3.3h-3.3zM164.77 772.09h3.3v3.3h-3.3zM170.76 722.19h3.3v3.3h-3.3zM176.75 764.49h3.3v3.3h-3.3zM188.74 764.87h3.3v3.3h-3.3zM194.73 685.81h3.3v3.3h-3.3zM200.72 768.46h3.3v3.3h-3.3zM206.72 737.92h3.3v3.3h-3.3zM212.71 770.46h3.3v3.3h-3.3zM218.7 745.76h3.3v3.3h-3.3zM224.7 739.25h3.3v3.3h-3.3zM230.69 794.95h3.3v3.3h-3.3zM236.68 705.79h3.3v3.3h-3.3zM242.68 794.95h3.3v3.3h-3.3zM248.67 794.95h3.3v3.3h-3.3zM254.66 744.64h3.3v3.3h-3.3zM260.65 767.12h3.3v3.3h-3.3zM266.65 719.52h3.3v3.3h-3.3zM272.64 767.79h3.3v3.3h-3.3zM278.63 740.84h3.3v3.3h-3.3zM284.63 769.33h3.3v3.3h-3.3zM290.62 721.73h3.3v3.3h-3.3zM296.61 713.22h3.3v3.3h-3.3zM302.61 667.87h3.3v3.3h-3.3zM308.6 767.79h3.3v3.3h-3.3zM314.59 794.95h3.3v3.3h-3.3zM320.58 718.39h3.3v3.3h-3.3zM326.58 772.71h3.3v3.3h-3.3zM332.57 794.95h3.3v3.3h-3.3zM338.56 794.95h3.3v3.3h-3.3zM344.56 719.52h3.3v3.3h-3.3zM350.55 749.14h3.3v3.3h-3.3zM356.54 744.89h3.3v3.3h-3.3zM362.54 750.48h3.3v3.3h-3.3zM368.53 700.87h3.3v3.3h-3.3zM374.52 794.95h3.3v3.3h-3.3zM380.51 721.73h3.3v3.3h-3.3zM386.51 769.33h3.3v3.3h-3.3zM392.5 768.25h3.3v3.3h-3.3zM398.49 770.46h3.3v3.3h-3.3zM404.49 745.3h3.3v3.3h-3.3zM410.48 729.62h3.3v3.3h-3.3zM416.47 751.14h3.3v3.3h-3.3zM422.47 794.95h3.3v3.3h-3.3zM428.46 770.46h3.3v3.3h-3.3zM434.45 794.95h3.3v3.3h-3.3zM440.44 794.95h3.3v3.3h-3.3zM446.44 766.2h3.3v3.3h-3.3zM452.43 721.4h3.3v3.3h-3.3zM458.42 748.89h3.3v3.3h-3.3zM464.42 794.95h3.3v3.3h-3.3zM470.41 794.95h3.3v3.3h-3.3zM476.4 794.95h3.3v3.3h-3.3zM482.4 768.12h3.3v3.3h-3.3zM488.39 767.58h3.3v3.3h-3.3zM494.38 794.95h3.3v3.3h-3.3zM500.37 770.21h3.3v3.3h-3.3zM506.37 772.25h3.3v3.3h-3.3z" fill="#0a0a0a"/>
<text x="96.8" y="698.3" font-size="6.9" fill="#222" textLength="12" lengthAdjust="spacingAndGlyphs" stroke="#222" stroke-width="0.12">UCL</text>
<text x="325.2" y="642.3" font-size="6.9" fill="#333" textLength="11.8" lengthAdjust="spacingAndGlyphs" stroke="#333" stroke-width="0.12">UCL</text>
<text x="96.8" y="769" font-size="6.9" fill="#b5b5b5" textLength="6.8" lengthAdjust="spacingAndGlyphs" stroke="#b5b5b5" stroke-width="0.22">CL</text>
<text x="120.3" y="792.4" font-size="6.9" fill="#222" textLength="10.6" lengthAdjust="spacingAndGlyphs" stroke="#222" stroke-width="0.12">LCL</text>
<text x="100.9" y="757.7" font-size="6.9" fill="#b5b5b5" textLength="39.5" lengthAdjust="spacingAndGlyphs" stroke="#b5b5b5" stroke-width="0.22">Mean: 0.498</text>
<text x="428" y="734.3" font-size="6.9" fill="#b0b0b0" textLength="19" lengthAdjust="spacingAndGlyphs" stroke="#b0b0b0" stroke-width="0.22">Mean:</text>
<text x="429" y="743.3" font-size="6.9" fill="#b0b0b0" textLength="16.4" lengthAdjust="spacingAndGlyphs" stroke="#b0b0b0" stroke-width="0.22">1.177</text>
<text x="484" y="756.1" font-size="6.9" fill="#b0b0b0" textLength="19.5" lengthAdjust="spacingAndGlyphs" stroke="#b0b0b0" stroke-width="0.22">Mean:</text>
<text x="485.4" y="765.1" font-size="6.9" fill="#b0b0b0" textLength="16.4" lengthAdjust="spacingAndGlyphs" stroke="#b0b0b0" stroke-width="0.22">0.384</text>
<rect x="326.3" y="616.3" width="184.7" height="14.6" fill="#fff" stroke="#3a3a3a" stroke-width="1.2"/>
<text x="332" y="626.2" font-size="7.5" fill="#222" textLength="92.5" lengthAdjust="spacingAndGlyphs" stroke="#222" stroke-width="0.1">COVID-19 Pandemic Period</text>
<ellipse cx="309.4" cy="661.8" rx="3.1" ry="5.6" fill="#fff" stroke="#0c0c0c" stroke-width="1.2"/>
<text x="309.4" y="663.95" font-size="6" fill="#222" text-anchor="middle" stroke="#222" stroke-width="0.2">A</text>
<ellipse cx="315.5" cy="661.8" rx="3.1" ry="5.6" fill="#fff" stroke="#0c0c0c" stroke-width="1.2"/>
<text x="315.5" y="663.95" font-size="6" fill="#222" text-anchor="middle" stroke="#222" stroke-width="0.2">B</text>
<ellipse cx="327.7" cy="661.8" rx="3.1" ry="5.6" fill="#fff" stroke="#0c0c0c" stroke-width="1.2"/>
<text x="327.7" y="663.95" font-size="6" fill="#222" text-anchor="middle" stroke="#222" stroke-width="0.2">C</text>
<ellipse cx="334" cy="661.8" rx="3.1" ry="5.6" fill="#fff" stroke="#0c0c0c" stroke-width="1.2"/>
<text x="334" y="663.95" font-size="6" fill="#222" text-anchor="middle" stroke="#222" stroke-width="0.2">D</text>
<ellipse cx="340.5" cy="661.8" rx="3.1" ry="5.6" fill="#fff" stroke="#0c0c0c" stroke-width="1.2"/>
<text x="340.5" y="663.95" font-size="6" fill="#222" text-anchor="middle" stroke="#222" stroke-width="0.2">E</text>
<ellipse cx="346.8" cy="661.8" rx="3.1" ry="5.6" fill="#fff" stroke="#0c0c0c" stroke-width="1.2"/>
<text x="346.8" y="663.95" font-size="6" fill="#222" text-anchor="middle" stroke="#222" stroke-width="0.2">F</text>
<ellipse cx="358.5" cy="661.8" rx="3.1" ry="5.6" fill="#fff" stroke="#0c0c0c" stroke-width="1.2"/>
<text x="358.5" y="663.95" font-size="6" fill="#222" text-anchor="middle" stroke="#222" stroke-width="0.2">G</text>
<text x="96.7" y="845.4" font-size="6.3" fill="#1a1a1a" transform="rotate(-89.9 96.7 845.4)" textLength="42.8" lengthAdjust="spacingAndGlyphs" stroke="#1a1a1a" stroke-width="0.18">Oct-16 (<tspan font-style="italic">n</tspan> = 0)</text>
<text x="102.69" y="845.4" font-size="6.3" fill="#1a1a1a" transform="rotate(-89.9 102.69 845.4)" textLength="42.8" lengthAdjust="spacingAndGlyphs" stroke="#1a1a1a" stroke-width="0.18">Nov-16 (<tspan font-style="italic">n</tspan> = 0)</text>
<text x="108.69" y="845.4" font-size="6.3" fill="#1a1a1a" transform="rotate(-89.9 108.69 845.4)" textLength="42.8" lengthAdjust="spacingAndGlyphs" stroke="#1a1a1a" stroke-width="0.18">Dec-16 (<tspan font-style="italic">n</tspan> = 1)</text>
<text x="114.68" y="845.4" font-size="6.3" fill="#1a1a1a" transform="rotate(-89.9 114.68 845.4)" textLength="42.8" lengthAdjust="spacingAndGlyphs" stroke="#1a1a1a" stroke-width="0.18">Jan-17 (<tspan font-style="italic">n</tspan> = 0)</text>
<text x="120.67" y="845.4" font-size="6.3" fill="#1a1a1a" transform="rotate(-89.9 120.67 845.4)" textLength="42.8" lengthAdjust="spacingAndGlyphs" stroke="#1a1a1a" stroke-width="0.18">Feb-17 (<tspan font-style="italic">n</tspan> = 1)</text>
<text x="126.67" y="845.4" font-size="6.3" fill="#1a1a1a" transform="rotate(-89.9 126.67 845.4)" textLength="42.8" lengthAdjust="spacingAndGlyphs" stroke="#1a1a1a" stroke-width="0.18">Mar-17 (<tspan font-style="italic">n</tspan> = 1)</text>
<text x="132.66" y="845.4" font-size="6.3" fill="#1a1a1a" transform="rotate(-89.9 132.66 845.4)" textLength="42.8" lengthAdjust="spacingAndGlyphs" stroke="#1a1a1a" stroke-width="0.18">Apr-17 (<tspan font-style="italic">n</tspan> = 1)</text>
<text x="138.65" y="845.4" font-size="6.3" fill="#1a1a1a" transform="rotate(-89.9 138.65 845.4)" textLength="42.8" lengthAdjust="spacingAndGlyphs" stroke="#1a1a1a" stroke-width="0.18">May-17 (<tspan font-style="italic">n</tspan> = 0)</text>
<text x="144.64" y="845.4" font-size="6.3" fill="#1a1a1a" transform="rotate(-89.9 144.64 845.4)" textLength="42.8" lengthAdjust="spacingAndGlyphs" stroke="#1a1a1a" stroke-width="0.18">Jun-17 (<tspan font-style="italic">n</tspan> = 1)</text>
<text x="150.64" y="845.4" font-size="6.3" fill="#1a1a1a" transform="rotate(-89.9 150.64 845.4)" textLength="42.8" lengthAdjust="spacingAndGlyphs" stroke="#1a1a1a" stroke-width="0.18">Jul-17 (<tspan font-style="italic">n</tspan> = 0)</text>
<text x="156.63" y="845.4" font-size="6.3" fill="#1a1a1a" transform="rotate(-89.9 156.63 845.4)" textLength="42.8" lengthAdjust="spacingAndGlyphs" stroke="#1a1a1a" stroke-width="0.18">Aug-17 (<tspan font-style="italic">n</tspan> = 2)</text>
<text x="162.62" y="845.4" font-size="6.3" fill="#1a1a1a" transform="rotate(-89.9 162.62 845.4)" textLength="42.8" lengthAdjust="spacingAndGlyphs" stroke="#1a1a1a" stroke-width="0.18">Sep-17 (<tspan font-style="italic">n</tspan> = 0)</text>
<text x="168.62" y="845.4" font-size="6.3" fill="#1a1a1a" transform="rotate(-89.9 168.62 845.4)" textLength="42.8" lengthAdjust="spacingAndGlyphs" stroke="#1a1a1a" stroke-width="0.18">Oct-17 (<tspan font-style="italic">n</tspan> = 1)</text>
<text x="174.61" y="845.4" font-size="6.3" fill="#1a1a1a" transform="rotate(-89.9 174.61 845.4)" textLength="42.8" lengthAdjust="spacingAndGlyphs" stroke="#1a1a1a" stroke-width="0.18">Nov-17 (<tspan font-style="italic">n</tspan> = 3)</text>
<text x="180.6" y="845.4" font-size="6.3" fill="#1a1a1a" transform="rotate(-89.9 180.6 845.4)" textLength="42.8" lengthAdjust="spacingAndGlyphs" stroke="#1a1a1a" stroke-width="0.18">Dec-17 (<tspan font-style="italic">n</tspan> = 1)</text>
<text x="192.59" y="845.4" font-size="6.3" fill="#1a1a1a" transform="rotate(-89.9 192.59 845.4)" textLength="42.8" lengthAdjust="spacingAndGlyphs" stroke="#1a1a1a" stroke-width="0.18">Feb-18 (<tspan font-style="italic">n</tspan> = 1)</text>
<text x="198.58" y="845.4" font-size="6.3" fill="#1a1a1a" transform="rotate(-89.9 198.58 845.4)" textLength="42.8" lengthAdjust="spacingAndGlyphs" stroke="#1a1a1a" stroke-width="0.18">Mar-18 (<tspan font-style="italic">n</tspan> = 4)</text>
<text x="204.57" y="845.4" font-size="6.3" fill="#1a1a1a" transform="rotate(-89.9 204.57 845.4)" textLength="42.8" lengthAdjust="spacingAndGlyphs" stroke="#1a1a1a" stroke-width="0.18">Apr-18 (<tspan font-style="italic">n</tspan> = 1)</text>
<text x="210.57" y="845.4" font-size="6.3" fill="#1a1a1a" transform="rotate(-89.9 210.57 845.4)" textLength="42.8" lengthAdjust="spacingAndGlyphs" stroke="#1a1a1a" stroke-width="0.18">May-18 (<tspan font-style="italic">n</tspan> = 2)</text>
<text x="216.56" y="845.4" font-size="6.3" fill="#1a1a1a" transform="rotate(-89.9 216.56 845.4)" textLength="42.8" lengthAdjust="spacingAndGlyphs" stroke="#1a1a1a" stroke-width="0.18">Jun-18 (<tspan font-style="italic">n</tspan> = 1)</text>
<text x="222.55" y="845.4" font-size="6.3" fill="#1a1a1a" transform="rotate(-89.9 222.55 845.4)" textLength="42.8" lengthAdjust="spacingAndGlyphs" stroke="#1a1a1a" stroke-width="0.18">Jul-18 (<tspan font-style="italic">n</tspan> = 2)</text>
<text x="228.55" y="845.4" font-size="6.3" fill="#1a1a1a" transform="rotate(-89.9 228.55 845.4)" textLength="42.8" lengthAdjust="spacingAndGlyphs" stroke="#1a1a1a" stroke-width="0.18">Aug-18 (<tspan font-style="italic">n</tspan> = 2)</text>
<text x="234.54" y="845.4" font-size="6.3" fill="#1a1a1a" transform="rotate(-89.9 234.54 845.4)" textLength="42.8" lengthAdjust="spacingAndGlyphs" stroke="#1a1a1a" stroke-width="0.18">Sep-18 (<tspan font-style="italic">n</tspan> = 0)</text>
<text x="240.53" y="845.4" font-size="6.3" fill="#1a1a1a" transform="rotate(-89.9 240.53 845.4)" textLength="42.8" lengthAdjust="spacingAndGlyphs" stroke="#1a1a1a" stroke-width="0.18">Oct-18 (<tspan font-style="italic">n</tspan> = 3)</text>
<text x="246.53" y="845.4" font-size="6.3" fill="#1a1a1a" transform="rotate(-89.9 246.53 845.4)" textLength="42.8" lengthAdjust="spacingAndGlyphs" stroke="#1a1a1a" stroke-width="0.18">Nov-18 (<tspan font-style="italic">n</tspan> = 0)</text>
<text x="252.52" y="845.4" font-size="6.3" fill="#1a1a1a" transform="rotate(-89.9 252.52 845.4)" textLength="42.8" lengthAdjust="spacingAndGlyphs" stroke="#1a1a1a" stroke-width="0.18">Dec-18 (<tspan font-style="italic">n</tspan> = 0)</text>
<text x="258.51" y="845.4" font-size="6.3" fill="#1a1a1a" transform="rotate(-89.9 258.51 845.4)" textLength="42.8" lengthAdjust="spacingAndGlyphs" stroke="#1a1a1a" stroke-width="0.18">Jan-19 (<tspan font-style="italic">n</tspan> = 2)</text>
<text x="264.5" y="845.4" font-size="6.3" fill="#1a1a1a" transform="rotate(-89.9 264.5 845.4)" textLength="42.8" lengthAdjust="spacingAndGlyphs" stroke="#1a1a1a" stroke-width="0.18">Feb-19 (<tspan font-style="italic">n</tspan> = 1)</text>
<text x="270.5" y="845.4" font-size="6.3" fill="#1a1a1a" transform="rotate(-89.9 270.5 845.4)" textLength="42.8" lengthAdjust="spacingAndGlyphs" stroke="#1a1a1a" stroke-width="0.18">Mar-19 (<tspan font-style="italic">n</tspan> = 3)</text>
<text x="276.49" y="845.4" font-size="6.3" fill="#1a1a1a" transform="rotate(-89.9 276.49 845.4)" textLength="42.8" lengthAdjust="spacingAndGlyphs" stroke="#1a1a1a" stroke-width="0.18">Apr-19 (<tspan font-style="italic">n</tspan> = 1)</text>
<text x="282.48" y="845.4" font-size="6.3" fill="#1a1a1a" transform="rotate(-89.9 282.48 845.4)" textLength="42.8" lengthAdjust="spacingAndGlyphs" stroke="#1a1a1a" stroke-width="0.18">May-19 (<tspan font-style="italic">n</tspan> = 2)</text>
<text x="288.48" y="845.4" font-size="6.3" fill="#1a1a1a" transform="rotate(-89.9 288.48 845.4)" textLength="42.8" lengthAdjust="spacingAndGlyphs" stroke="#1a1a1a" stroke-width="0.18">Jun-19 (<tspan font-style="italic">n</tspan> = 1)</text>
<text x="294.47" y="845.4" font-size="6.3" fill="#1a1a1a" transform="rotate(-89.9 294.47 845.4)" textLength="42.8" lengthAdjust="spacingAndGlyphs" stroke="#1a1a1a" stroke-width="0.18">Jul-19 (<tspan font-style="italic">n</tspan> = 3)</text>
<text x="300.46" y="845.4" font-size="6.3" fill="#1a1a1a" transform="rotate(-89.9 300.46 845.4)" textLength="42.8" lengthAdjust="spacingAndGlyphs" stroke="#1a1a1a" stroke-width="0.18">Aug-19 (<tspan font-style="italic">n</tspan> = 3)</text>
<text x="306.45" y="845.4" font-size="6.3" fill="#1a1a1a" transform="rotate(-89.9 306.45 845.4)" textLength="42.8" lengthAdjust="spacingAndGlyphs" stroke="#1a1a1a" stroke-width="0.18">Sep-19 (<tspan font-style="italic">n</tspan> = 4)</text>
<text x="312.45" y="845.4" font-size="6.3" fill="#1a1a1a" transform="rotate(-89.9 312.45 845.4)" textLength="42.8" lengthAdjust="spacingAndGlyphs" stroke="#1a1a1a" stroke-width="0.18">Oct-19 (<tspan font-style="italic">n</tspan> = 1)</text>
<text x="318.44" y="845.4" font-size="6.3" fill="#1a1a1a" transform="rotate(-89.9 318.44 845.4)" textLength="42.8" lengthAdjust="spacingAndGlyphs" stroke="#1a1a1a" stroke-width="0.18">Nov-19 (<tspan font-style="italic">n</tspan> = 0)</text>
<text x="324.43" y="845.4" font-size="6.3" fill="#1a1a1a" transform="rotate(-89.9 324.43 845.4)" textLength="42.8" lengthAdjust="spacingAndGlyphs" stroke="#1a1a1a" stroke-width="0.18">Dec-19 (<tspan font-style="italic">n</tspan> = 3)</text>
<text x="330.43" y="845.4" font-size="6.3" fill="#1a1a1a" transform="rotate(-89.9 330.43 845.4)" textLength="42.8" lengthAdjust="spacingAndGlyphs" stroke="#1a1a1a" stroke-width="0.18">Jan-20 (<tspan font-style="italic">n</tspan> = 1)</text>
<text x="336.42" y="845.4" font-size="6.3" fill="#1a1a1a" transform="rotate(-89.9 336.42 845.4)" textLength="42.8" lengthAdjust="spacingAndGlyphs" stroke="#1a1a1a" stroke-width="0.18">Feb-20 (<tspan font-style="italic">n</tspan> = 0)</text>
<text x="342.41" y="845.4" font-size="6.3" fill="#1a1a1a" transform="rotate(-89.9 342.41 845.4)" textLength="42.8" lengthAdjust="spacingAndGlyphs" stroke="#1a1a1a" stroke-width="0.18">Mar-20 (<tspan font-style="italic">n</tspan> = 0)</text>
<text x="348.41" y="845.4" font-size="6.3" fill="#1a1a1a" transform="rotate(-89.9 348.41 845.4)" textLength="42.8" lengthAdjust="spacingAndGlyphs" stroke="#1a1a1a" stroke-width="0.18">Apr-20 (<tspan font-style="italic">n</tspan> = 3)</text>
<text x="354.4" y="845.4" font-size="6.3" fill="#1a1a1a" transform="rotate(-89.9 354.4 845.4)" textLength="42.8" lengthAdjust="spacingAndGlyphs" stroke="#1a1a1a" stroke-width="0.18">May-20 (<tspan font-style="italic">n</tspan> = 2)</text>
<text x="360.39" y="845.4" font-size="6.3" fill="#1a1a1a" transform="rotate(-89.9 360.39 845.4)" textLength="42.8" lengthAdjust="spacingAndGlyphs" stroke="#1a1a1a" stroke-width="0.18">Jun-20 (<tspan font-style="italic">n</tspan> = 2)</text>
<text x="366.38" y="845.4" font-size="6.3" fill="#1a1a1a" transform="rotate(-89.9 366.38 845.4)" textLength="42.8" lengthAdjust="spacingAndGlyphs" stroke="#1a1a1a" stroke-width="0.18">Jul-20 (<tspan font-style="italic">n</tspan> = 2)</text>
<text x="372.38" y="845.4" font-size="6.3" fill="#1a1a1a" transform="rotate(-89.9 372.38 845.4)" textLength="42.8" lengthAdjust="spacingAndGlyphs" stroke="#1a1a1a" stroke-width="0.18">Aug-20 (<tspan font-style="italic">n</tspan> = 4)</text>
<text x="378.37" y="845.4" font-size="6.3" fill="#1a1a1a" transform="rotate(-89.9 378.37 845.4)" textLength="42.8" lengthAdjust="spacingAndGlyphs" stroke="#1a1a1a" stroke-width="0.18">Sep-20 (<tspan font-style="italic">n</tspan> = 0)</text>
<text x="384.36" y="845.4" font-size="6.3" fill="#1a1a1a" transform="rotate(-89.9 384.36 845.4)" textLength="42.8" lengthAdjust="spacingAndGlyphs" stroke="#1a1a1a" stroke-width="0.18">Oct-20 (<tspan font-style="italic">n</tspan> = 3)</text>
<text x="390.36" y="845.4" font-size="6.3" fill="#1a1a1a" transform="rotate(-89.9 390.36 845.4)" textLength="42.8" lengthAdjust="spacingAndGlyphs" stroke="#1a1a1a" stroke-width="0.18">Nov-20 (<tspan font-style="italic">n</tspan> = 1)</text>
<text x="396.35" y="845.4" font-size="6.3" fill="#1a1a1a" transform="rotate(-89.9 396.35 845.4)" textLength="42.8" lengthAdjust="spacingAndGlyphs" stroke="#1a1a1a" stroke-width="0.18">Dec-20 (<tspan font-style="italic">n</tspan> = 1)</text>
<text x="402.34" y="845.4" font-size="6.3" fill="#1a1a1a" transform="rotate(-89.9 402.34 845.4)" textLength="42.8" lengthAdjust="spacingAndGlyphs" stroke="#1a1a1a" stroke-width="0.18">Jan-21 (<tspan font-style="italic">n</tspan> = 1)</text>
<text x="408.34" y="845.4" font-size="6.3" fill="#1a1a1a" transform="rotate(-89.9 408.34 845.4)" textLength="42.8" lengthAdjust="spacingAndGlyphs" stroke="#1a1a1a" stroke-width="0.18">Feb-21 (<tspan font-style="italic">n</tspan> = 2)</text>
<text x="414.33" y="845.4" font-size="6.3" fill="#1a1a1a" transform="rotate(-89.9 414.33 845.4)" textLength="42.8" lengthAdjust="spacingAndGlyphs" stroke="#1a1a1a" stroke-width="0.18">Mar-21 (<tspan font-style="italic">n</tspan> = 3)</text>
<text x="420.32" y="845.4" font-size="6.3" fill="#1a1a1a" transform="rotate(-89.9 420.32 845.4)" textLength="42.8" lengthAdjust="spacingAndGlyphs" stroke="#1a1a1a" stroke-width="0.18">Apr-21 (<tspan font-style="italic">n</tspan> = 2)</text>
<text x="426.31" y="845.4" font-size="6.3" fill="#1a1a1a" transform="rotate(-89.9 426.31 845.4)" textLength="42.8" lengthAdjust="spacingAndGlyphs" stroke="#1a1a1a" stroke-width="0.18">May-21 (<tspan font-style="italic">n</tspan> = 0)</text>
<text x="432.31" y="845.4" font-size="6.3" fill="#1a1a1a" transform="rotate(-89.9 432.31 845.4)" textLength="42.8" lengthAdjust="spacingAndGlyphs" stroke="#1a1a1a" stroke-width="0.18">Jun-21 (<tspan font-style="italic">n</tspan> = 1)</text>
<text x="438.3" y="845.4" font-size="6.3" fill="#1a1a1a" transform="rotate(-89.9 438.3 845.4)" textLength="42.8" lengthAdjust="spacingAndGlyphs" stroke="#1a1a1a" stroke-width="0.18">Jul-21 (<tspan font-style="italic">n</tspan> = 0)</text>
<text x="444.29" y="845.4" font-size="6.3" fill="#1a1a1a" transform="rotate(-89.9 444.29 845.4)" textLength="42.8" lengthAdjust="spacingAndGlyphs" stroke="#1a1a1a" stroke-width="0.18">Aug-21 (<tspan font-style="italic">n</tspan> = 0)</text>
<text x="450.29" y="845.4" font-size="6.3" fill="#1a1a1a" transform="rotate(-89.9 450.29 845.4)" textLength="42.8" lengthAdjust="spacingAndGlyphs" stroke="#1a1a1a" stroke-width="0.18">Sep-21 (<tspan font-style="italic">n</tspan> = 1)</text>
<text x="456.28" y="845.4" font-size="6.3" fill="#1a1a1a" transform="rotate(-89.9 456.28 845.4)" textLength="42.8" lengthAdjust="spacingAndGlyphs" stroke="#1a1a1a" stroke-width="0.18">Oct-21 (<tspan font-style="italic">n</tspan> = 3)</text>
<text x="462.27" y="845.4" font-size="6.3" fill="#1a1a1a" transform="rotate(-89.9 462.27 845.4)" textLength="42.8" lengthAdjust="spacingAndGlyphs" stroke="#1a1a1a" stroke-width="0.18">Nov-21 (<tspan font-style="italic">n</tspan> = 2)</text>
<text x="468.27" y="845.4" font-size="6.3" fill="#1a1a1a" transform="rotate(-89.9 468.27 845.4)" textLength="42.8" lengthAdjust="spacingAndGlyphs" stroke="#1a1a1a" stroke-width="0.18">Dec-21 (<tspan font-style="italic">n</tspan> = 0)</text>
<text x="474.26" y="845.4" font-size="6.3" fill="#1a1a1a" transform="rotate(-89.9 474.26 845.4)" textLength="42.8" lengthAdjust="spacingAndGlyphs" stroke="#1a1a1a" stroke-width="0.18">Jan-22 (<tspan font-style="italic">n</tspan> = 0)</text>
<text x="480.25" y="845.4" font-size="6.3" fill="#1a1a1a" transform="rotate(-89.9 480.25 845.4)" textLength="42.8" lengthAdjust="spacingAndGlyphs" stroke="#1a1a1a" stroke-width="0.18">Feb-22 (<tspan font-style="italic">n</tspan> = 0)</text>
<text x="486.25" y="845.4" font-size="6.3" fill="#1a1a1a" transform="rotate(-89.9 486.25 845.4)" textLength="42.8" lengthAdjust="spacingAndGlyphs" stroke="#1a1a1a" stroke-width="0.18">Mar-22 (<tspan font-style="italic">n</tspan> = 1)</text>
<text x="492.24" y="845.4" font-size="6.3" fill="#1a1a1a" transform="rotate(-89.9 492.24 845.4)" textLength="42.8" lengthAdjust="spacingAndGlyphs" stroke="#1a1a1a" stroke-width="0.18">Apr-22 (<tspan font-style="italic">n</tspan> = 1)</text>
<text x="498.23" y="845.4" font-size="6.3" fill="#1a1a1a" transform="rotate(-89.9 498.23 845.4)" textLength="42.8" lengthAdjust="spacingAndGlyphs" stroke="#1a1a1a" stroke-width="0.18">May-22 (<tspan font-style="italic">n</tspan> = 0)</text>
<text x="504.22" y="845.4" font-size="6.3" fill="#1a1a1a" transform="rotate(-89.9 504.22 845.4)" textLength="42.8" lengthAdjust="spacingAndGlyphs" stroke="#1a1a1a" stroke-width="0.18">Jun-22 (<tspan font-style="italic">n</tspan> = 1)</text>
<text x="510.22" y="845.4" font-size="6.3" fill="#1a1a1a" transform="rotate(-89.9 510.22 845.4)" textLength="42.8" lengthAdjust="spacingAndGlyphs" stroke="#1a1a1a" stroke-width="0.18">Jul-22 (<tspan font-style="italic">n</tspan> = 1)</text>
<rect x="91.9" y="847.2" width="90" height="10.4" fill="#e9e9e9"/>
<rect x="187.7" y="847.2" width="119.3" height="10.4" fill="#b0b1b3"/>
<rect x="308.6" y="847.2" width="143.3" height="10.4" fill="#231f20"/>
<rect x="451.9" y="847.2" width="61.1" height="10.4" fill="#dedede"/>
<text x="97.7" y="853.7" font-size="5.9" fill="#3a3a3a" textLength="76.2" lengthAdjust="spacingAndGlyphs" stroke="#3a3a3a" stroke-width="0.05">Pre-baseline Period in Old Unit</text>
<text x="247.3" y="853.7" font-size="5.8" fill="#f4f4f4" text-anchor="middle" textLength="67" lengthAdjust="spacingAndGlyphs">Baseline Period in New Unit</text>
<text x="380.3" y="853.7" font-size="5.9" fill="#fff" text-anchor="middle" textLength="48" lengthAdjust="spacingAndGlyphs" stroke="#fff" stroke-width="0.05">Intervention Period</text>
<text x="483" y="853.7" font-size="5.9" fill="#3a3a3a" text-anchor="middle" textLength="47" lengthAdjust="spacingAndGlyphs" stroke="#3a3a3a" stroke-width="0.05">Maintenance Period</text>
<text x="302.6" y="864.6" font-size="7" fill="#111" text-anchor="middle" font-weight="bold" textLength="37.7" lengthAdjust="spacingAndGlyphs" stroke="#111" stroke-width="0.22">Month-Year</text>
<text x="0.1" y="12.5" font-size="17.8" fill="#000">A</text>
<text x="4.6" y="311.8" font-size="17.9" fill="#000">B</text>
<text x="3.8" y="597.3" font-size="18.4" fill="#000">C</text>
</svg>
</body></html>
